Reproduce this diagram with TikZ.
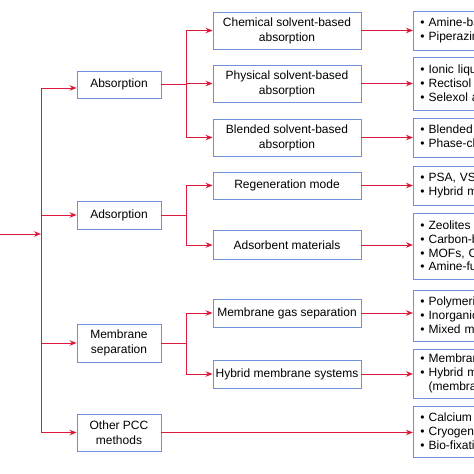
\documentclass[tikz,border=0pt]{standalone}
\usepackage{fontspec}
\setmainfont{Liberation Sans}
\usetikzlibrary{arrows.meta}
\definecolor{boxblue}{RGB}{110,145,215}
\definecolor{linered}{RGB}{220,25,60}
\begin{document}
\begin{tikzpicture}[x=1pt,y=-1pt,
  box/.style={draw=boxblue,line width=0.9pt,fill=white,inner sep=0pt,align=center,font=\fontsize{12}{15}\selectfont},
  lone/.style={box,minimum width=84pt},
  ltwo/.style={box,minimum width=148pt},
  lthree/.style={draw=boxblue,line width=0.9pt,fill=white,anchor=west,text width=260pt,align=left,inner xsep=7pt,inner ysep=0pt,font=\fontsize{12}{13.8}\selectfont},
  link/.style={draw=linered,line width=1pt},
  arr/.style={link,-{Stealth[length=7pt,width=5.5pt]}}]
\useasboundingbox (0,0) rectangle (474,474);
\clip (0,0) rectangle (474,474);
\fill[white] (0,0) rectangle (474,474);

% level 1
\node[lone,minimum height=27pt] (abs) at (119,84.5) {Absorption};
\node[lone,minimum height=28pt] (ads) at (119,215) {Adsorption};
\node[lone,minimum height=38pt] (mem) at (119,343) {Membrane\\separation};
\node[lone,minimum height=37pt] (oth) at (119,432.5) {Other PCC\\methods};

% level 2
\node[ltwo,minimum height=37pt] (chem) at (287,30.5) {Chemical solvent-based\\absorption};
\node[ltwo,minimum height=37pt] (phys) at (287,83.5) {Physical solvent-based\\absorption};
\node[ltwo,minimum height=37pt] (blend) at (287,137.5) {Blended solvent-based\\absorption};
\node[ltwo,minimum height=27pt] (regen) at (287,185.5) {Regeneration mode};
\node[ltwo,minimum height=29pt] (sorb) at (287,245) {Adsorbent materials};
\node[ltwo,minimum height=28pt] (mgas) at (287,313) {Membrane gas separation};
\node[ltwo,minimum height=28pt] (hyb) at (287,374) {Hybrid membrane systems};

% level 3
\node[lthree,minimum height=39pt] (amine) at (413,30.5) {• Amine-based solvents (MEA, DEA)\\• Piperazine-based solvents};
\node[lthree,minimum height=53pt] (ionic) at (413,83.5) {• Ionic liquids\\• Rectisol process\\• Selexol and Purisol};
\node[lthree,minimum height=39pt] (blendx) at (413,137.5) {• Blended amine solvents\\• Phase-change solvents};
\node[lthree,minimum height=39pt] (psa) at (413,185.5) {• PSA, VSA, TSA\\• Hybrid modes};
\node[lthree,minimum height=66pt] (zeo) at (413,246) {• Zeolites\\• Carbon-based sorbents\\• MOFs, COFs\\• Amine-functionalized sorbents};
\node[lthree,minimum height=51pt] (poly) at (413,315.5) {• Polymeric membranes\\• Inorganic membranes\\• Mixed matrix membranes};
\node[lthree,minimum height=49pt] (mcon) at (413,373.5) {• Membrane contactors\\• Hybrid membrane processes\\\hphantom{• }(membrane-cryogenic)};
\node[lthree,minimum height=51pt] (calc) at (413,431.5) {• Calcium looping\\• Cryogenic separation\\• Bio-fixation};

% trunk
\coordinate (in) at (0,234);
\coordinate (trunk) at (41,234);
\coordinate (absin) at (41,88);
\coordinate (br) at (186,0);
\draw[arr] (in) -- (trunk);
\draw[link] (absin) -- (trunk |- oth.west);
\draw[arr] (absin) -- (absin -| abs.west);
\draw[arr] (trunk |- ads.west) -- (ads.west);
\draw[arr] (trunk |- mem.west) -- (mem.west);
\draw[arr] (trunk |- oth.west) -- (oth.west);

% absorption branch
\draw[link] (abs.east) -- (br |- abs.east);
\draw[link] (br |- chem.west) -- (br |- blend.west);
\draw[arr] (br |- chem.west) -- (chem.west);
\draw[arr] (br |- phys.west) -- (phys.west);
\draw[arr] (br |- blend.west) -- (blend.west);

% adsorption branch
\draw[link] (ads.east) -- (br |- ads.east);
\draw[link] (br |- regen.west) -- (br |- sorb.west);
\draw[arr] (br |- regen.west) -- (regen.west);
\draw[arr] (br |- sorb.west) -- (sorb.west);

% membrane branch
\draw[link] (mem.east) -- (br |- mem.east);
\draw[link] (br |- mgas.west) -- (br |- hyb.west);
\draw[arr] (br |- mgas.west) -- (mgas.west);
\draw[arr] (br |- hyb.west) -- (hyb.west);

% level 2 to level 3
\draw[arr] (chem.east) -- (chem.east -| amine.west);
\draw[arr] (phys.east) -- (phys.east -| ionic.west);
\draw[arr] (blend.east) -- (blend.east -| blendx.west);
\draw[arr] (regen.east) -- (regen.east -| psa.west);
\draw[arr] (sorb.east) -- (sorb.east -| zeo.west);
\draw[arr] (mgas.east) -- (mgas.east -| poly.west);
\draw[arr] (hyb.east) -- (hyb.east -| mcon.west);
\draw[arr] (oth.east) -- (oth.east -| calc.west);
\end{tikzpicture}
\end{document}
